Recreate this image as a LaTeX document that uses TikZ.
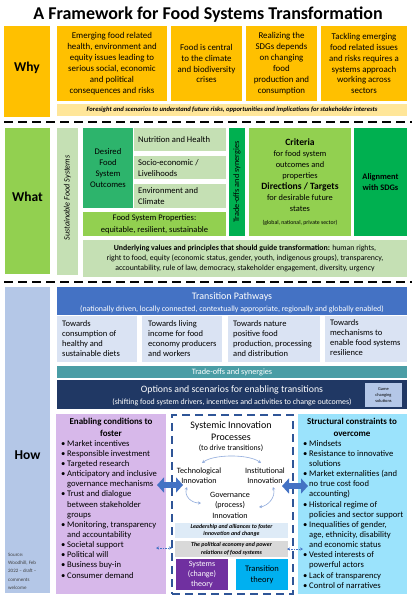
\documentclass[tikz,border=0pt]{standalone}
\usepackage{fontspec}
\setmainfont{Carlito}
\usetikzlibrary{arrows.meta,shapes.arrows}
\definecolor{cWhy}{HTML}{FFC000}
\definecolor{cFore}{HTML}{FFE699}
\definecolor{cWhat}{HTML}{92D050}
\definecolor{cLight}{HTML}{C5E0B4}
\definecolor{cMid}{HTML}{2DB46C}
\definecolor{cDark}{HTML}{00B050}
\definecolor{cHow}{HTML}{B4C7E7}
\definecolor{cTP}{HTML}{4472C4}
\definecolor{cToward}{HTML}{DAE3F3}
\definecolor{cTeal}{HTML}{4A9DA5}
\definecolor{cNavy}{HTML}{203864}
\definecolor{cEnab}{HTML}{D7B8EA}
\definecolor{cStruct}{HTML}{9BE3FC}
\definecolor{cSys}{HTML}{7030A0}
\definecolor{cTT}{HTML}{00B0F0}
\definecolor{cLead}{HTML}{DEEBF7}
\definecolor{cPol}{HTML}{D9D9D9}
\definecolor{cDash}{HTML}{2F5597}
\definecolor{cArc}{HTML}{8FAADC}
\newcommand{\fs}[2]{\fontsize{#1}{#2}\selectfont}
\newcommand{\bx}[7]{%
  \pgfmathsetmacro{\bxw}{#4-#2}\pgfmathsetmacro{\bxh}{#5-#3}%
  \node[box,minimum width=\bxw pt,minimum height=\bxh pt,#6] (#1) at (#2,#3) {#7};}
\newcommand{\bul}{\makebox[6pt][l]{\textbullet}}
\newcommand{\ind}{\hspace*{6pt}}
\begin{document}
\begin{tikzpicture}[x=1pt,y=-1pt,
  box/.style={anchor=north west,inner sep=0pt,outer sep=0pt,align=center,text=black},
  lbl/.style={font=\bfseries\fs{13.5}{16}},
  sep/.style={line width=2.6pt,dash pattern=on 9pt off 5pt,black},
  ltxt/.style={anchor=west,align=left,inner sep=0pt},
  list/.style={anchor=north west,align=left,inner sep=0pt,font=\fs{8.6}{10.15}},
  arc/.style={cArc,line width=0.6pt,{Stealth[length=3pt,width=3pt]}-{Stealth[length=3pt,width=3pt]}},
  bigarr/.style={cTP,line width=6pt,{Triangle[length=7pt,width=15pt]}-{Triangle[length=7pt,width=15pt]}},
  smallarr/.style={cTP,line width=0.6pt,dash pattern=on 1.5pt off 1pt,{Stealth[length=3pt,width=3pt]}-{Stealth[length=3pt,width=3pt]}}]
\useasboundingbox (0,0) rectangle (416,600);
\fill[white] (0,0) rectangle (416,600);
% title
\node[font=\bfseries\fs{18}{20}] (title) at (208,15) {A Framework for Food Systems Transformation};
% WHY
\bx{why}{4}{26}{50}{117}{fill=cWhy}{}
\node[lbl] (whyl) at (27,68) {Why};
\bx{w1}{57}{26}{167}{101}{fill=cWhy,font=\fs{8.9}{10.9}}{Emerging food related\\health, environment and\\equity issues leading to\\serious social, economic\\and political\\consequences and risks}
\bx{w2}{171}{26}{242}{101}{fill=cWhy,font=\fs{8.9}{10.9}}{Food is central\\to the climate\\and biodiversity\\crises}
\bx{w3}{246}{26}{317}{101}{fill=cWhy,font=\fs{8.9}{10.9}}{Realizing the\\SDGs depends\\on changing\\food\\production and\\consumption}
\bx{w4}{321}{26}{407}{101}{fill=cWhy,font=\fs{8.9}{10.9}}{Tackling emerging\\food related issues\\and risks requires a\\systems approach\\working across\\sectors}
\bx{fore}{57}{104}{407}{116}{fill=cFore,font=\bfseries\itshape\fs{6.6}{8}}{Foresight and scenarios to understand future risks, opportunities and implications for stakeholder interests}
\coordinate (d1a) at (4,122); \coordinate (d1b) at (412,122);
\draw[sep] (d1a) -- (d1b);
% WHAT
\bx{what}{5}{128}{50}{274}{fill=cWhat}{}
\node[lbl] (whatl) at (27.5,197) {What};
\bx{sfs}{57}{128}{78}{275}{fill=cLight}{}
\node[rotate=90,font=\itshape\fs{8.2}{10}] (sfsl) at (67.5,198) {Sustainable Food Systems};
\bx{des}{83}{128}{133}{208}{fill=cMid,font=\fs{8.6}{10.9}}{Desired\\Food\\System\\Outcomes}
\bx{nut}{134}{128}{226}{151}{fill=cLight}{}
\node[ltxt,font=\fs{8.6}{11}] (nutl) at (138,140) {Nutrition and Health};
\bx{soc}{134}{156}{226}{179}{fill=cLight}{}
\node[ltxt,font=\fs{8.6}{11}] (socl) at (138,168) {Socio-economic /\\Livelihoods};
\bx{env}{134}{184}{226}{208}{fill=cLight}{}
\node[ltxt,font=\fs{8.6}{11}] (envl) at (138,196) {Environment and\\Climate};
\bx{prop}{83}{212}{226}{236}{fill=cWhat,font=\fs{8.5}{11.5}}{Food System Properties:\\equitable, resilient, sustainable}
\bx{tos}{229}{128}{245}{236}{fill=cDark}{}
\node[rotate=90,font=\fs{8.3}{10}] (tosl) at (tos.center) {Trade-offs and synergies};
\bx{crit}{249}{128}{351}{236}{fill=cWhat,font=\fs{8.4}{11}}{{\bfseries\fs{9.6}{11}Criteria}\\for food system\\outcomes and\\properties\\{\bfseries\fs{9.6}{11}Directions / Targets}\\for desirable future\\states\\[2pt]{\fs{5.8}{7}(global, national, private sector)}}
\bx{sdg}{354}{128}{407}{236}{fill=cDark,font=\bfseries\fs{8.4}{10.5}}{Alignment\\with SDGs}
\bx{val}{83}{240}{407}{277}{fill=cLight,font=\fs{7.8}{10}}{\textbf{Underlying values and principles that should guide transformation:} human rights,\\right to food, equity (economic status, gender, youth, indigenous groups), transparency,\\accountability, rule of law, democracy, stakeholder engagement, diversity, urgency}
\coordinate (d2a) at (4,282); \coordinate (d2b) at (412,282);
\draw[sep] (d2a) -- (d2b);
% HOW
\bx{how}{5}{287}{50}{593}{fill=cHow}{}
\node[lbl] (howl) at (27.5,455) {How};
\node[anchor=north west,align=left,inner sep=0pt,font=\fs{5}{8.2},text=black!75] (src) at (8,553) {Source:\\Woodhill, Feb\\2022 – draft –\\comments\\welcome};
\bx{tp}{57}{287}{407}{315}{fill=cTP}{}
\node[text=white,font=\fs{10}{12}] (tpl) at (232,297) {Transition Pathways};
\node[text=white,font=\fs{7.9}{10}] (tpl2) at (232,309) {(nationally driven, locally connected, contextually appropriate, regionally and globally enabled)};
\bx{t1}{57}{316}{137}{362}{fill=cToward}{}
\bx{t2}{142}{316}{222}{362}{fill=cToward}{}
\bx{t3}{228}{316}{320}{362}{fill=cToward}{}
\bx{t4}{325}{316}{407}{362}{fill=cToward}{}
\node[ltxt,font=\fs{8.5}{10}] (t1l) at (62,339) {Towards\\consumption of\\healthy and\\sustainable diets};
\node[ltxt,font=\fs{8.5}{10}] (t2l) at (148,339) {Towards living\\income for food\\economy producers\\and workers};
\node[ltxt,font=\fs{8.5}{10}] (t3l) at (233,339) {Towards nature\\positive food\\production, processing\\and distribution};
\node[ltxt,font=\fs{8.5}{10}] (t4l) at (330,338) {Towards\\mechanisms to\\enable food systems\\resilience};
\bx{tosb}{57}{366}{407}{378}{fill=cTeal,text=white,font=\fs{8.2}{10}}{Trade-offs and synergies}
\bx{opt}{57}{380}{407}{409}{fill=cNavy}{}
\node[text=white,font=\fs{9.8}{12}] (optl) at (232,390) {Options and scenarios for enabling transitions};
\node[text=white,font=\fs{7.9}{10}] (optl2) at (232,402) {(shifting food system drivers, incentives and activities to change outcomes)};
\bx{game}{365}{383}{402}{407}{fill=cHow,font=\fs{4.4}{5.6}}{Game\\changing\\solutions}
% enabling
\bx{enab}{56}{414}{166}{594}{fill=cEnab}{}
\node[align=center,font=\bfseries\fs{9}{12}] (enabt) at (111,427) {Enabling conditions to\\foster};
\node[list] (enabl) at (61,440) {\bul Market incentives\\\bul Responsible investment\\\bul Targeted research\\\bul Anticipatory and inclusive\\\ind governance mechanisms\\\bul Trust and dialogue\\\ind between stakeholder\\\ind groups\\\bul Monitoring, transparency\\\ind and accountability\\\bul Societal support\\\bul Political will\\\bul Business buy-in\\\bul Consumer demand};
% structural
\bx{struc}{298}{414}{407}{594}{fill=cStruct}{}
\node[align=center,font=\bfseries\fs{9}{12}] (struct) at (352,427) {Structural constraints to\\overcome};
\node[list] (strucl) at (303,440) {\bul Mindsets\\\bul Resistance to innovative\\\ind solutions\\\bul Market externalities (and\\\ind no true cost food\\\ind accounting)\\\bul Historical regime of\\\ind policies and sector support\\\bul Inequalities of gender,\\\ind age, ethnicity, disability\\\ind and economic status\\\bul Vested interests of\\\ind powerful actors\\\bul Lack of transparency\\\bul Control of narratives};
% systemic
\bx{sysbox}{172}{415}{293}{594}{draw=cDash,line width=1.6pt,dash pattern=on 8pt off 5pt}{}
\node[align=center,font=\fs{10}{12}] (sysl) at (231,431) {Systemic Innovation\\Processes};
\node[font=\fs{7.8}{10}] (sysl2) at (231,448) {(to drive transitions)};
\node[align=center,font=\fs{8.1}{10.2}] (tech) at (199,476) {Technological\\Innovation};
\node[align=center,font=\fs{8.1}{10.2}] (inst) at (265,476) {Institutional\\Innovation};
\node[align=center,font=\fs{8.1}{10.5}] (gov) at (230,505) {Governance\\(process)\\Innovation};
\coordinate (a1) at (202,463); \coordinate (a2) at (261,463);
\draw[arc] (a1) .. controls (214,454) and (249,454) .. (a2);
\coordinate (a3) at (187,487); \coordinate (a4) at (201,503);
\draw[arc] (a3) .. controls (184,496) and (191,503) .. (a4);
\coordinate (a5) at (273,487); \coordinate (a6) at (259,507);
\draw[arc] (a5) .. controls (276,497) and (268,506) .. (a6);
\bx{lead}{175}{523}{288}{538}{fill=cLead,font=\bfseries\itshape\fs{5.9}{7.6}}{Leadership and alliances to foster\\innovation and change}
\bx{pol}{175}{541}{288}{557}{fill=cPol,font=\bfseries\itshape\fs{5.9}{7.6}}{The political economy and power\\relations of food systems}
\bx{syst}{176}{559}{228}{590}{fill=cSys,text=white,font=\fs{8}{10.3}}{Systems\\(change)\\theory}
\bx{trt}{236}{559}{288}{590}{fill=cTT,font=\fs{8.5}{10.5}}{Transition\\theory}
% arrows
\coordinate (b1) at (157,485); \coordinate (b2) at (183,485);
\draw[bigarr] (b1) -- (b2);
\coordinate (b3) at (282,486); \coordinate (b4) at (308,486);
\draw[bigarr] (b3) -- (b4);
\coordinate (s1) at (156,548); \coordinate (s2) at (172,548);
\draw[smallarr] (s1) -- (s2);
\coordinate (s3) at (287,549); \coordinate (s4) at (303,549);
\draw[smallarr] (s3) -- (s4);
\end{tikzpicture}
\end{document}
